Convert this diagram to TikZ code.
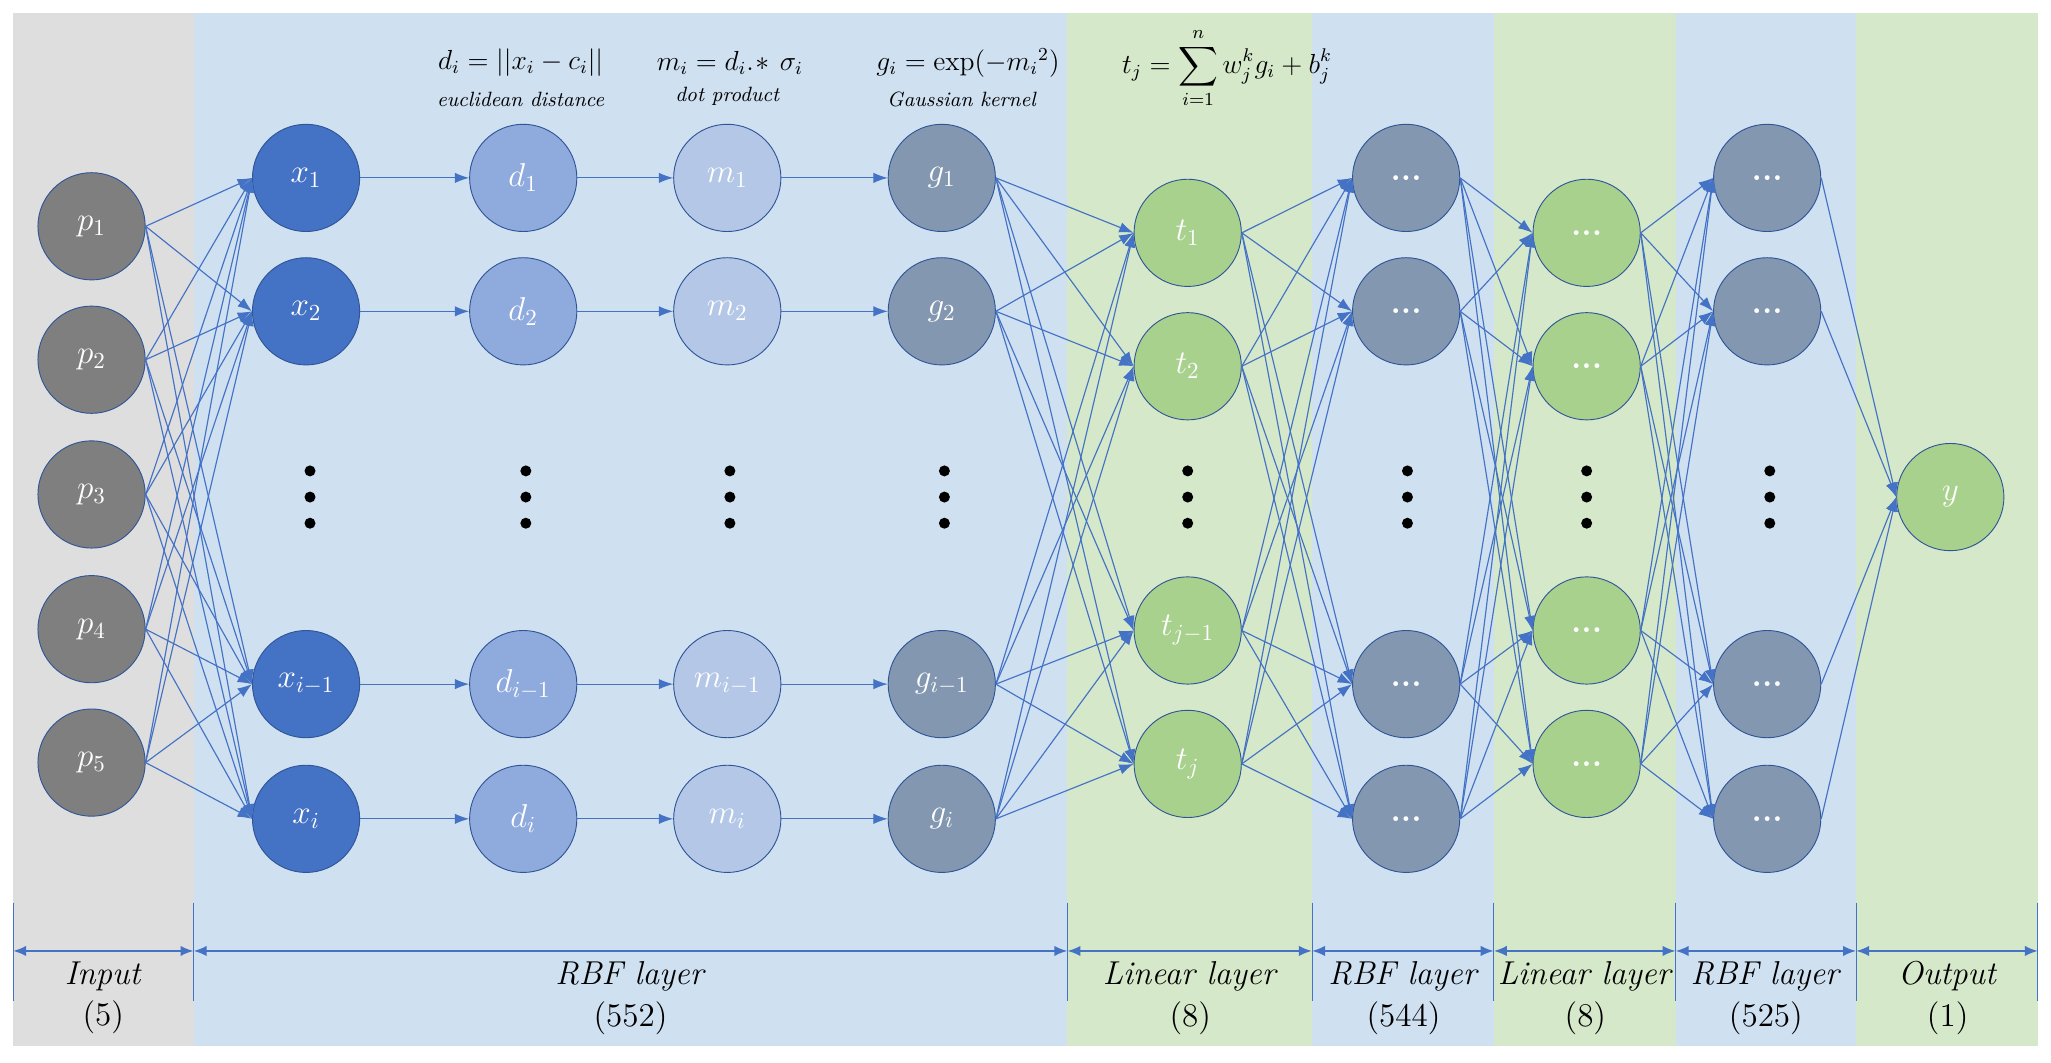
\documentclass[tikz,border=0pt]{standalone}
\usepackage{amsmath}
\usetikzlibrary{arrows.meta}
\definecolor{bggray}{HTML}{DEDEDE}
\definecolor{bgblue}{HTML}{CFE0F1}
\definecolor{bggreen}{HTML}{D5E8C9}
\definecolor{edgeblue}{HTML}{4472C4}
\definecolor{rim}{HTML}{2F5597}
\definecolor{cp}{HTML}{7F7F7F}
\definecolor{cx}{HTML}{4472C4}
\definecolor{cd}{HTML}{8FAADC}
\definecolor{cm}{HTML}{B4C7E7}
\definecolor{cg}{HTML}{8497B0}
\definecolor{ct}{HTML}{A9D18E}

\tikzset{
	neuron/.style = {circle, draw=rim, thin, minimum size=1.64cm, inner sep=0pt,
		text=white, font=\Large},
	pnode/.style  = {neuron, fill=cp},
	xnode/.style  = {neuron, fill=cx},
	dnode/.style  = {neuron, fill=cd},
	mnode/.style  = {neuron, fill=cm},
	gnode/.style  = {neuron, fill=cg},
	tnode/.style  = {neuron, fill=ct},
	link/.style   = {-{Latex[length=2.2mm,width=1.6mm]}, draw=edgeblue, line width=0.5pt},
	span/.style   = {{Latex[length=2mm,width=1.6mm]}-{Latex[length=2mm,width=1.6mm]}, draw=edgeblue, line width=0.9pt},
	layer/.style  = {font=\Large, align=center}
}

\begin{document}
\begin{tikzpicture}[x=0.02cm, y=-0.02cm]
\useasboundingbox (0,0) rectangle (1568,812);

% background bands
\fill[bggray]  (10,10)   rectangle (148,800);
\fill[bgblue]  (148,10)  rectangle (816,800);
\fill[bggreen] (816,10)  rectangle (1003,800);
\fill[bgblue]  (1003,10) rectangle (1142,800);
\fill[bggreen] (1142,10) rectangle (1281,800);
\fill[bgblue]  (1281,10) rectangle (1419,800);
\fill[bggreen] (1419,10) rectangle (1558,800);

% formulas on top
\node[font=\large] (fd) at (398,48) {$d_i = ||x_i - c_i||$};
\node[font=\small\itshape] (cd) at (398,76) {euclidean distance};
\node[font=\large] (fm) at (558,48) {$m_i = d_i.\!*\,\sigma_i$};
\node[font=\small\itshape] (cm) at (556,74) {dot product};
\node[font=\large] (fg) at (740,48) {$g_i = \exp(-{m_i}^2)$};
\node[font=\small\itshape] (cg) at (735,76) {Gaussian kernel};
\node[font=\large] (ft) at (938,52) {$t_j = \displaystyle\sum_{i=1}^{n} w_j^k g_i + b_j^k$};

% input layer
\foreach \r/\yy in {1/173,2/275,3/378,4/481,5/583}
	\node[pnode] (p\r) at (70,\yy) {$p_{\r}$};

% rbf layer chain and wide layers
\foreach \r/\yy/\sub in {1/136/1,2/238/2,4/523/{i-1},5/626/i} {
	\node[xnode] (x\r) at (234,\yy) {$x_{\sub}$};
	\node[dnode] (d\r) at (400,\yy) {$d_{\sub}$};
	\node[mnode] (m\r) at (556,\yy) {$m_{\sub}$};
	\node[gnode] (g\r) at (720,\yy) {$g_{\sub}$};
	\node[gnode] (r\r) at (1075,\yy) {\textbf{...}};
	\node[gnode] (s\r) at (1351,\yy) {\textbf{...}};
	\draw[link] (x\r) -- (d\r);
	\draw[link] (d\r) -- (m\r);
	\draw[link] (m\r) -- (g\r);
}

% linear layers
\foreach \r/\yy/\sub in {1/178/1,2/280/2,4/482/{j-1},5/584/j} {
	\node[tnode] (t\r) at (908,\yy) {$t_{\sub}$};
	\node[tnode] (l\r) at (1213,\yy) {\textbf{...}};
}

% output
\node[tnode] (y) at (1491,380) {$y$};

% vertical dots
\foreach \xx in {237,402,558,722,908,1076,1213,1353}
	\foreach \yy in {360,380,400}
		\fill (\xx,\yy) circle (4.2);

% full connections
\foreach \a in {1,...,5}
	\foreach \b in {1,2,4,5}
		\draw[link] (p\a.east) -- (x\b.west);
\foreach \a in {1,2,4,5}
	\foreach \b in {1,2,4,5} {
		\draw[link] (g\a.east) -- (t\b.west);
		\draw[link] (t\a.east) -- (r\b.west);
		\draw[link] (r\a.east) -- (l\b.west);
		\draw[link] (l\a.east) -- (s\b.west);
	}
\foreach \a in {1,2,4,5}
	\draw[link] (s\a.east) -- (y.west);

% layer spans
\foreach \i/\xx in {0/10,1/148,2/816,3/1003,4/1142,5/1281,6/1419,7/1558} {
	\coordinate (b\i) at (\xx,727);
	\draw[edgeblue, thin] (\xx,690) -- (\xx,765);
}
\foreach \i/\j in {0/1,1/2,2/3,3/4,4/5,5/6,6/7}
	\draw[span] (b\i) -- (b\j);

\node[layer] (n1) at (79,763)   {\textit{Input}\\(5)};
\node[layer] (n2) at (482,763)  {\textit{RBF layer}\\(552)};
\node[layer] (n3) at (910,763)  {\textit{Linear layer}\\(8)};
\node[layer] (n4) at (1073,763) {\textit{RBF layer}\\(544)};
\node[layer] (n5) at (1212,763) {\textit{Linear layer}\\(8)};
\node[layer] (n6) at (1350,763) {\textit{RBF layer}\\(525)};
\node[layer] (n7) at (1489,763) {\textit{Output}\\(1)};
\end{tikzpicture}
\end{document}
